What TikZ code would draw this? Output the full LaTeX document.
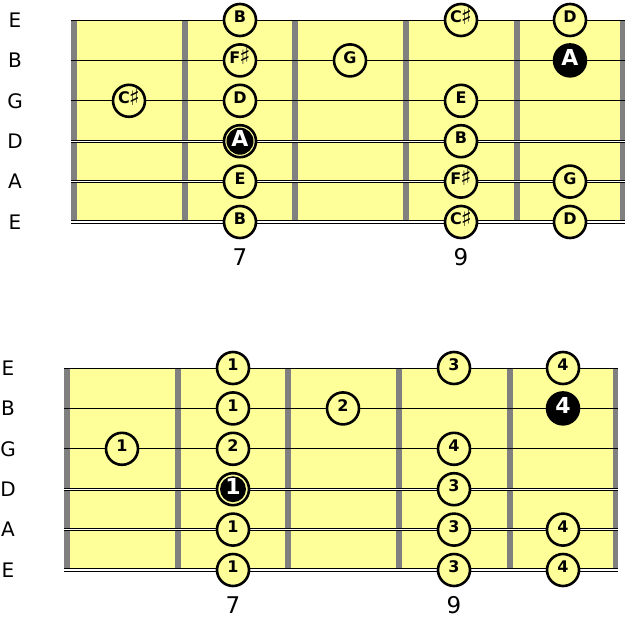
\documentclass[tikz,border=0pt]{standalone}
\usepackage{fontspec}
\setmainfont{DejaVu Sans}
\usepackage{xcolor}
\usepackage{tikz}
\definecolor{fretyellow}{HTML}{FFFF99}
\definecolor{fretgray}{HTML}{808080}
\newcommand{\shp}{\kern-1pt\raisebox{-1.5pt}{\fontsize{23}{23}\selectfont ♯}}

\begin{document}
\begin{tikzpicture}[
  x=1pt, y=-1pt,
  stringlabel/.style={font=\fontsize{20}{20}\selectfont, anchor=center},
  fretnum/.style={font=\fontsize{23}{23}\selectfont, anchor=center},
  note/.style={circle, draw=black, line width=2.6pt, fill=fretyellow, minimum size=32pt, inner sep=0pt, text height=11.5pt, text depth=6pt, font=\bfseries\fontsize{16}{16}\selectfont},
  rootnote/.style={circle, fill=black, minimum size=34.5pt, inner sep=0pt, text=white, text height=16pt, text depth=5pt, font=\bfseries\fontsize{22}{22}\selectfont},
  rootinner/.style={circle, fill=black, minimum size=23pt, inner sep=0pt, text=white, text height=16pt, text depth=5pt, font=\bfseries\fontsize{22}{22}\selectfont},
  plainstring/.style={draw=black, line width=1pt},
  woundstring/.style={draw=black, line width=3.4pt, postaction={draw=white, line width=1.2pt}},
  fretbar/.style={draw=fretgray, line width=6pt}
]
\useasboundingbox (0,0) rectangle (631,621);

% ---- note names ----
\begin{scope}
  \fill[fretyellow] (71,20) rectangle (625,222);
  \foreach \fx in {74,184.5,295,405.5,516.5} \draw[fretbar] (\fx,20) -- (\fx,222);
  \draw[fretgray, line width=5pt] (622.5,20) -- (622.5,222);
  \foreach \sy in {20,60.4,100.8} \draw[plainstring] (71,\sy) -- (625,\sy);
  \foreach \sy in {141.2,181.6,222} \draw[woundstring] (71,\sy) -- (625,\sy);
  \node[stringlabel] (ta) at (15,20) {E};
  \node[stringlabel] (tb) at (15,60.4) {B};
  \node[stringlabel] (tc) at (15,100.8) {G};
  \node[stringlabel] (td) at (15,141.2) {D};
  \node[stringlabel] (te) at (15,181.6) {A};
  \node[stringlabel] (tf) at (15,222) {E};
  % high E
  \node[note] (n17) at (240,20) {B};
  \node[note] (n19) at (461,20) {C\shp};
  \node[note] (n110) at (570,20) {D};
  % B
  \node[note] (n27) at (240,60.4) {F\shp};
  \node[note] (n28) at (350,60.4) {G};
  \node[rootnote] (n210) at (570,60.4) {A};
  % G
  \node[note] (n36) at (129,100.8) {C\shp};
  \node[note] (n37) at (240,100.8) {D};
  \node[note] (n39) at (461,100.8) {E};
  % D
  \node[note] (n47) at (240,141.2) {};
  \node[rootinner] (r47) at (n47) {A};
  \node[note] (n49) at (461,141.2) {B};
  % A
  \node[note] (n57) at (240,181.6) {E};
  \node[note] (n59) at (461,181.6) {F\shp};
  \node[note] (n510) at (570,181.6) {G};
  % low E
  \node[note] (n67) at (240,222) {B};
  \node[note] (n69) at (461,222) {C\shp};
  \node[note] (n610) at (570,222) {D};
  \node[fretnum] (tseven) at (240,257) {7};
  \node[fretnum] (tnine) at (461,257) {9};
\end{scope}

% ---- fingering ----
\begin{scope}[shift={(-7,348)}]
  \fill[fretyellow] (71,20) rectangle (625,222);
  \foreach \fx in {74,184.5,295,405.5,516.5} \draw[fretbar] (\fx,20) -- (\fx,222);
  \draw[fretgray, line width=5pt] (622.5,20) -- (622.5,222);
  \foreach \sy in {20,60.4,100.8} \draw[plainstring] (71,\sy) -- (625,\sy);
  \foreach \sy in {141.2,181.6,222} \draw[woundstring] (71,\sy) -- (625,\sy);
  \node[stringlabel] (ba) at (15,20) {E};
  \node[stringlabel] (bb) at (15,60.4) {B};
  \node[stringlabel] (bc) at (15,100.8) {G};
  \node[stringlabel] (bd) at (15,141.2) {D};
  \node[stringlabel] (be) at (15,181.6) {A};
  \node[stringlabel] (bf) at (15,222) {E};
  % high E
  \node[note] (f17) at (240,20) {1};
  \node[note] (f19) at (461,20) {3};
  \node[note] (f110) at (570,20) {4};
  % B
  \node[note] (f27) at (240,60.4) {1};
  \node[note] (f28) at (350,60.4) {2};
  \node[rootnote] (f210) at (570,60.4) {4};
  % G
  \node[note] (f36) at (129,100.8) {1};
  \node[note] (f37) at (240,100.8) {2};
  \node[note] (f39) at (461,100.8) {4};
  % D
  \node[note] (f47) at (240,141.2) {};
  \node[rootinner] (s47) at (f47) {1};
  \node[note] (f49) at (461,141.2) {3};
  % A
  \node[note] (f57) at (240,181.6) {1};
  \node[note] (f59) at (461,181.6) {3};
  \node[note] (f510) at (570,181.6) {4};
  % low E
  \node[note] (f67) at (240,222) {1};
  \node[note] (f69) at (461,222) {3};
  \node[note] (f610) at (570,222) {4};
  \node[fretnum] (bseven) at (240,257) {7};
  \node[fretnum] (bnine) at (461,257) {9};
\end{scope}
\end{tikzpicture}
\end{document}
